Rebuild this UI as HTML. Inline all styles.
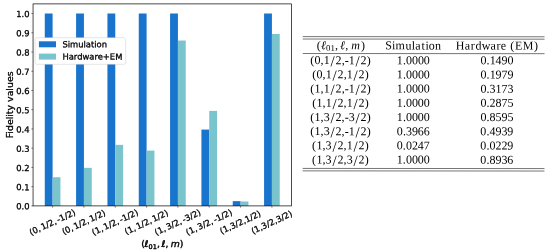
<!DOCTYPE html>
<html><head><meta charset="utf-8"><title>Fidelity values</title>
<style>
html,body{margin:0;padding:0;background:#fff}
body{width:550px;height:252px;position:relative;overflow:hidden}
</style></head><body>
<svg width="550" height="252" viewBox="0 0 550 252" style="position:absolute;left:0;top:0" font-family="'DejaVu Sans','Liberation Sans',sans-serif" font-size="8.4" fill="#000">
<style>text{stroke:#000;stroke-width:0.3px;stroke-linejoin:round}text.t{stroke:none;font-family:"Liberation Serif","DejaVu Serif",serif;font-size:12.0px}tspan.sl{font-size:15px}</style>
<rect x="44.77" y="13.50" width="7.83" height="192.40" fill="#1874cd" stroke="none"/>
<rect x="52.60" y="177.23" width="7.83" height="28.67" fill="#7ac5cd" stroke="none"/>
<rect x="76.10" y="13.50" width="7.83" height="192.40" fill="#1874cd" stroke="none"/>
<rect x="83.93" y="167.82" width="7.83" height="38.08" fill="#7ac5cd" stroke="none"/>
<rect x="107.43" y="13.50" width="7.83" height="192.40" fill="#1874cd" stroke="none"/>
<rect x="115.26" y="144.85" width="7.83" height="61.05" fill="#7ac5cd" stroke="none"/>
<rect x="138.76" y="13.50" width="7.83" height="192.40" fill="#1874cd" stroke="none"/>
<rect x="146.59" y="150.59" width="7.83" height="55.31" fill="#7ac5cd" stroke="none"/>
<rect x="170.09" y="13.50" width="7.83" height="192.40" fill="#1874cd" stroke="none"/>
<rect x="177.92" y="40.53" width="7.83" height="165.37" fill="#7ac5cd" stroke="none"/>
<rect x="201.42" y="129.59" width="7.83" height="76.31" fill="#1874cd" stroke="none"/>
<rect x="209.25" y="110.87" width="7.83" height="95.03" fill="#7ac5cd" stroke="none"/>
<rect x="232.75" y="201.15" width="7.83" height="4.75" fill="#1874cd" stroke="none"/>
<rect x="240.58" y="201.49" width="7.83" height="4.41" fill="#7ac5cd" stroke="none"/>
<rect x="264.08" y="13.50" width="7.83" height="192.40" fill="#1874cd" stroke="none"/>
<rect x="271.91" y="33.97" width="7.83" height="171.93" fill="#7ac5cd" stroke="none"/>
<rect x="33.05" y="3.90" width="258.50" height="202.00" fill="none" stroke="#000" stroke-width="0.7"/>
<line x1="31.35" y1="205.90" x2="33.05" y2="205.90" stroke="#000" stroke-width="0.5"/>
<text transform="translate(29.55 209.37) rotate(0.03)" text-anchor="end">0.0</text>
<line x1="31.35" y1="186.66" x2="33.05" y2="186.66" stroke="#000" stroke-width="0.5"/>
<text transform="translate(29.55 190.13) rotate(0.03)" text-anchor="end">0.1</text>
<line x1="31.35" y1="167.42" x2="33.05" y2="167.42" stroke="#000" stroke-width="0.5"/>
<text transform="translate(29.55 170.89) rotate(0.03)" text-anchor="end">0.2</text>
<line x1="31.35" y1="148.18" x2="33.05" y2="148.18" stroke="#000" stroke-width="0.5"/>
<text transform="translate(29.55 151.65) rotate(0.03)" text-anchor="end">0.3</text>
<line x1="31.35" y1="128.94" x2="33.05" y2="128.94" stroke="#000" stroke-width="0.5"/>
<text transform="translate(29.55 132.41) rotate(0.03)" text-anchor="end">0.4</text>
<line x1="31.35" y1="109.70" x2="33.05" y2="109.70" stroke="#000" stroke-width="0.5"/>
<text transform="translate(29.55 113.17) rotate(0.03)" text-anchor="end">0.5</text>
<line x1="31.35" y1="90.46" x2="33.05" y2="90.46" stroke="#000" stroke-width="0.5"/>
<text transform="translate(29.55 93.93) rotate(0.03)" text-anchor="end">0.6</text>
<line x1="31.35" y1="71.22" x2="33.05" y2="71.22" stroke="#000" stroke-width="0.5"/>
<text transform="translate(29.55 74.69) rotate(0.03)" text-anchor="end">0.7</text>
<line x1="31.35" y1="51.98" x2="33.05" y2="51.98" stroke="#000" stroke-width="0.5"/>
<text transform="translate(29.55 55.45) rotate(0.03)" text-anchor="end">0.8</text>
<line x1="31.35" y1="32.74" x2="33.05" y2="32.74" stroke="#000" stroke-width="0.5"/>
<text transform="translate(29.55 36.21) rotate(0.03)" text-anchor="end">0.9</text>
<line x1="31.35" y1="13.50" x2="33.05" y2="13.50" stroke="#000" stroke-width="0.5"/>
<text transform="translate(29.55 16.97) rotate(0.03)" text-anchor="end">1.0</text>
<line x1="52.60" y1="205.90" x2="52.60" y2="207.60" stroke="#000" stroke-width="0.5"/>
<text transform="translate(53.60 224.90) rotate(-25)" text-anchor="middle" font-size="8.4">(0, 1/2, -1/2)</text>
<line x1="83.93" y1="205.90" x2="83.93" y2="207.60" stroke="#000" stroke-width="0.5"/>
<text transform="translate(84.93 224.90) rotate(-25)" text-anchor="middle" font-size="8.4">(0, 1/2, 1/2)</text>
<line x1="115.26" y1="205.90" x2="115.26" y2="207.60" stroke="#000" stroke-width="0.5"/>
<text transform="translate(116.26 224.90) rotate(-25)" text-anchor="middle" font-size="8.4">(1, 1/2, -1/2)</text>
<line x1="146.59" y1="205.90" x2="146.59" y2="207.60" stroke="#000" stroke-width="0.5"/>
<text transform="translate(147.59 224.90) rotate(-25)" text-anchor="middle" font-size="8.4">(1, 1/2, 1/2)</text>
<line x1="177.92" y1="205.90" x2="177.92" y2="207.60" stroke="#000" stroke-width="0.5"/>
<text transform="translate(178.92 224.90) rotate(-25)" text-anchor="middle" font-size="8.4">(1, 3/2, -3/2)</text>
<line x1="209.25" y1="205.90" x2="209.25" y2="207.60" stroke="#000" stroke-width="0.5"/>
<text transform="translate(210.25 224.90) rotate(-25)" text-anchor="middle" font-size="8.4">(1, 3/2, -1/2)</text>
<line x1="240.58" y1="205.90" x2="240.58" y2="207.60" stroke="#000" stroke-width="0.5"/>
<text transform="translate(241.58 224.90) rotate(-25)" text-anchor="middle" font-size="8.4">(1,3/2,1/2)</text>
<line x1="271.91" y1="205.90" x2="271.91" y2="207.60" stroke="#000" stroke-width="0.5"/>
<text transform="translate(272.91 224.90) rotate(-25)" text-anchor="middle" font-size="8.4">(1,3/2,3/2)</text>
<text transform="translate(13.20 104.90) rotate(-90)" text-anchor="middle" font-size="9.4">Fidelity values</text>
<text x="162.30" y="246.80" text-anchor="middle" font-size="9.3" style="stroke-width:0.4px">(<tspan font-style="italic">ℓ</tspan><tspan font-size="6.51" dy="1.8">01</tspan><tspan dy="-1.8">, </tspan><tspan font-style="italic" dx="0.3">ℓ</tspan>, <tspan font-style="italic" dx="0.7">m</tspan>)</text>
<rect x="35.05" y="37.7" width="90.6" height="26.6" rx="1.7" fill="#fff" stroke="#ccc" stroke-width="0.5"/>
<rect x="38.9" y="41.3" width="17.1" height="6" fill="#1874cd"/>
<rect x="38.9" y="53.6" width="17.1" height="6" fill="#7ac5cd"/>
<text transform="translate(62.4 47.3) rotate(0.03)">Simulation</text>
<text transform="translate(62.4 59.6) rotate(0.03)">Hardware+EM</text>
<g transform="rotate(0.04 423 104)">
<line x1="302.70" y1="36.70" x2="544.50" y2="36.70" stroke="#000" stroke-width="0.55"/>
<line x1="302.70" y1="39.10" x2="544.50" y2="39.10" stroke="#000" stroke-width="0.55"/>
<line x1="302.70" y1="53.60" x2="544.50" y2="53.60" stroke="#000" stroke-width="0.55"/>
<line x1="302.70" y1="168.50" x2="544.50" y2="168.50" stroke="#000" stroke-width="0.55"/>
<line x1="302.70" y1="170.95" x2="544.50" y2="170.95" stroke="#000" stroke-width="0.55"/>
<text class="t" x="385.27 391.88 395.47 405.36 411.63 415.25 421.51 425.46 428.73 434.99" y="49.40">Simulation</text>
<text class="t" x="455.75 464.83 470.77 475.38 481.62 490.53 496.48 500.77 506.54 510.32 514.99 522.79 533.86" y="49.40">Hardware (EM)</text>
<text class="t"><tspan x="316.76" y="49.40">(</tspan><tspan x="321.03" y="49.40" font-style="italic">ℓ</tspan><tspan x="325.97" y="51.15" style="font-size:8.88px">0</tspan><tspan x="330.35" y="51.15" style="font-size:8.88px">1</tspan><tspan x="334.91" y="49.40">,</tspan><tspan x="340.00" y="49.40" font-style="italic">ℓ</tspan><tspan x="345.12" y="49.40">,</tspan><tspan x="351.11" y="49.40" font-style="italic">m</tspan><tspan x="360.95" y="49.40">)</tspan></text>
<text class="t" x="310.19 314.46 320.57 323.68 330.52 335.53 341.63 344.76 348.69 355.53 360.54 366.81" y="64.20" dy="0 0 0 0 2.2 -2.2 0 0 0 2.2 -2.2 0">(0,1<tspan class="sl">/</tspan>2,-1<tspan class="sl">/</tspan>2)</text>
<text class="t" x="396.80 402.91 406.02 411.95 417.87 423.80" y="64.20">1.0000</text>
<text class="t" x="480.40 486.51 489.62 495.55 501.47 507.40" y="64.20">0.1490</text>
<text class="t" x="312.17 316.43 322.54 325.65 332.49 337.50 343.61 346.72 353.56 358.57 364.84" y="78.40" dy="0 0 0 0 2.2 -2.2 0 0 2.2 -2.2 0">(0,1<tspan class="sl">/</tspan>2,1<tspan class="sl">/</tspan>2)</text>
<text class="t" x="396.80 402.91 406.02 411.95 417.87 423.80" y="78.40">1.0000</text>
<text class="t" x="480.40 486.51 489.62 495.55 501.47 507.40" y="78.40">0.1979</text>
<text class="t" x="310.19 314.46 320.57 323.68 330.52 335.53 341.63 344.76 348.69 355.53 360.54 366.81" y="92.60" dy="0 0 0 0 2.2 -2.2 0 0 0 2.2 -2.2 0">(1,1<tspan class="sl">/</tspan>2,-1<tspan class="sl">/</tspan>2)</text>
<text class="t" x="396.80 402.91 406.02 411.95 417.87 423.80" y="92.60">1.0000</text>
<text class="t" x="480.40 486.51 489.62 495.55 501.47 507.40" y="92.60">0.3173</text>
<text class="t" x="312.17 316.43 322.54 325.65 332.49 337.50 343.61 346.72 353.56 358.57 364.84" y="106.80" dy="0 0 0 0 2.2 -2.2 0 0 2.2 -2.2 0">(1,1<tspan class="sl">/</tspan>2,1<tspan class="sl">/</tspan>2)</text>
<text class="t" x="396.80 402.91 406.02 411.95 417.87 423.80" y="106.80">1.0000</text>
<text class="t" x="480.40 486.51 489.62 495.55 501.47 507.40" y="106.80">0.2875</text>
<text class="t" x="310.19 314.46 320.57 323.68 330.52 335.53 341.63 344.76 348.69 355.53 360.54 366.81" y="121.00" dy="0 0 0 0 2.2 -2.2 0 0 0 2.2 -2.2 0">(1,3<tspan class="sl">/</tspan>2,-3<tspan class="sl">/</tspan>2)</text>
<text class="t" x="396.80 402.91 406.02 411.95 417.87 423.80" y="121.00">1.0000</text>
<text class="t" x="480.40 486.51 489.62 495.55 501.47 507.40" y="121.00">0.8595</text>
<text class="t" x="310.19 314.46 320.57 323.68 330.52 335.53 341.63 344.76 348.69 355.53 360.54 366.81" y="135.20" dy="0 0 0 0 2.2 -2.2 0 0 0 2.2 -2.2 0">(1,3<tspan class="sl">/</tspan>2,-1<tspan class="sl">/</tspan>2)</text>
<text class="t" x="396.80 402.91 406.02 411.95 417.87 423.80" y="135.20">0.3966</text>
<text class="t" x="480.40 486.51 489.62 495.55 501.47 507.40" y="135.20">0.4939</text>
<text class="t" x="312.17 316.43 322.54 325.65 332.49 337.50 343.61 346.72 353.56 358.57 364.84" y="149.40" dy="0 0 0 0 2.2 -2.2 0 0 2.2 -2.2 0">(1,3<tspan class="sl">/</tspan>2,1<tspan class="sl">/</tspan>2)</text>
<text class="t" x="396.80 402.91 406.02 411.95 417.87 423.80" y="149.40">0.0247</text>
<text class="t" x="480.40 486.51 489.62 495.55 501.47 507.40" y="149.40">0.0229</text>
<text class="t" x="312.17 316.43 322.54 325.65 332.49 337.50 343.61 346.72 353.56 358.57 364.84" y="163.60" dy="0 0 0 0 2.2 -2.2 0 0 2.2 -2.2 0">(1,3<tspan class="sl">/</tspan>2,3<tspan class="sl">/</tspan>2)</text>
<text class="t" x="396.80 402.91 406.02 411.95 417.87 423.80" y="163.60">1.0000</text>
<text class="t" x="480.40 486.51 489.62 495.55 501.47 507.40" y="163.60">0.8936</text>
</g>
</svg>
</body></html>
